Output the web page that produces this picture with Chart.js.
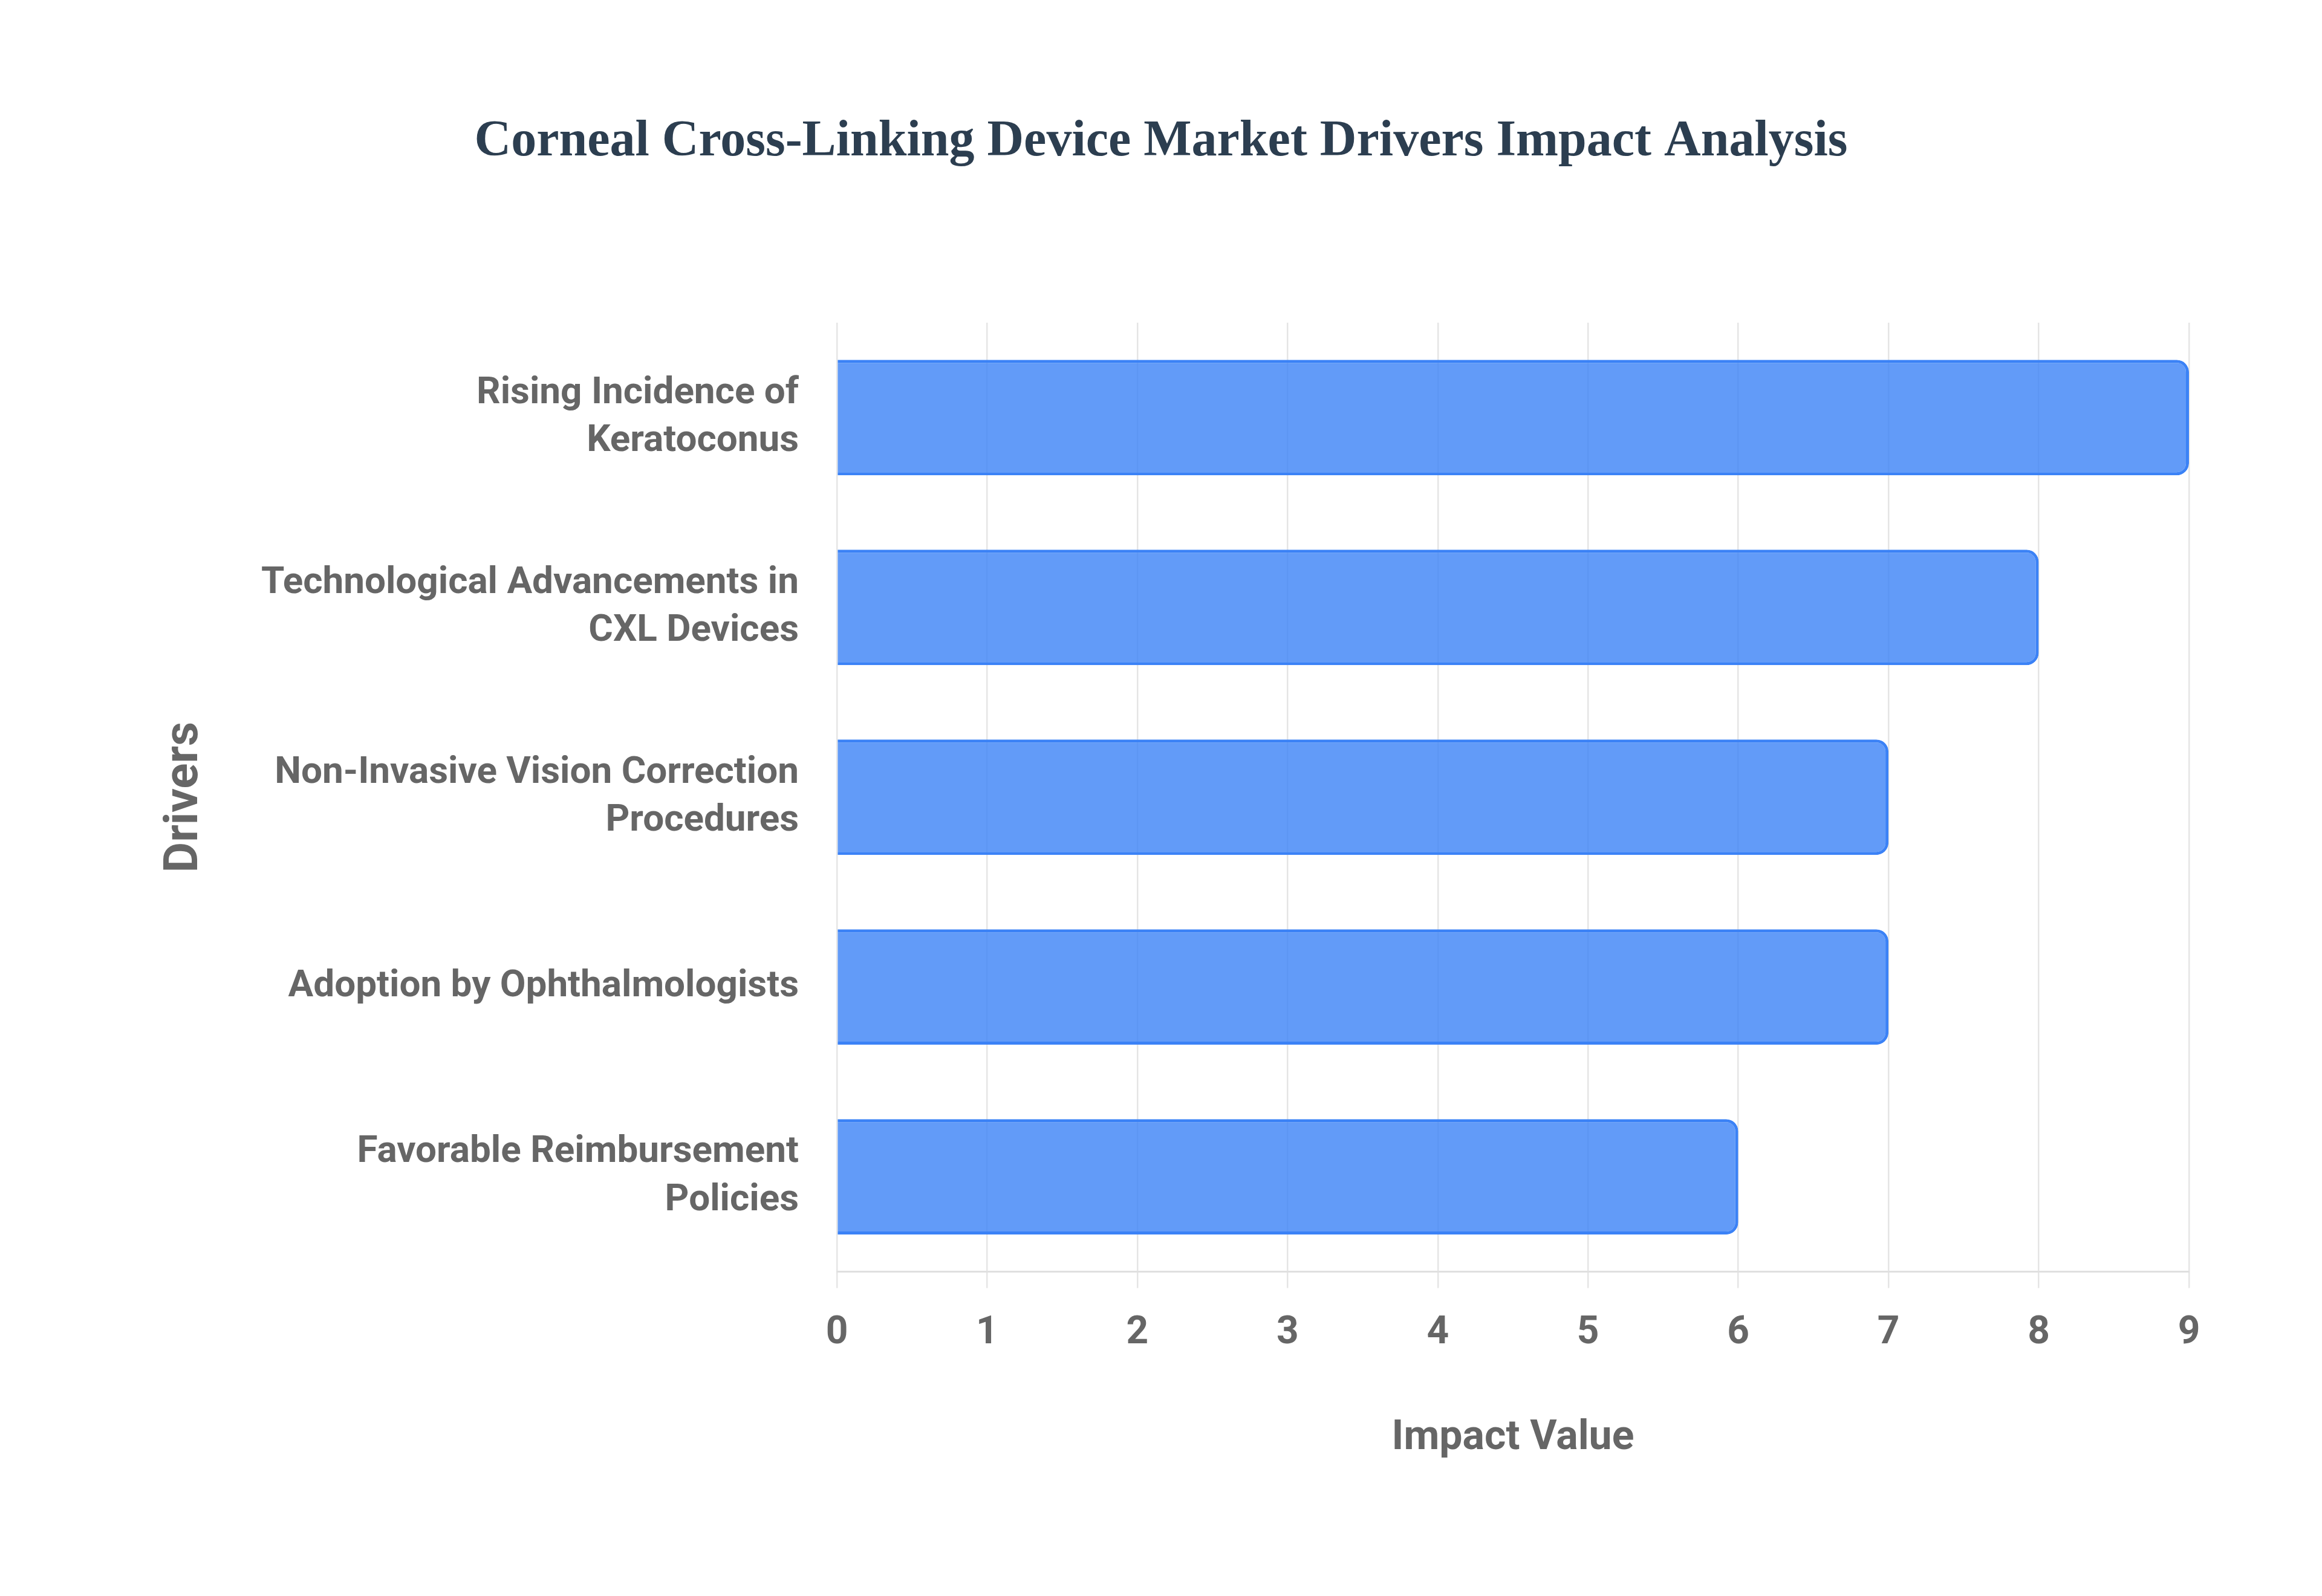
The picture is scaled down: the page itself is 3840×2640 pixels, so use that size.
<!DOCTYPE html>
<html>
<head>
<meta charset="utf-8">
<script src="https://cdn.jsdelivr.net/npm/chart.js@4.4.1/dist/chart.umd.min.js"></script>
<style>
  html, body { margin: 0; padding: 0; background: #fff; }
  #wrap { width: 3840px; height: 2640px; }
</style>
</head>
<body>
<div id="wrap"><canvas id="driversChart" width="3840" height="2640"></canvas></div>
<script>
// drivers, top to bottom
const drivers = [
  ['Rising Incidence of', 'Keratoconus'],
  ['Technological Advancements in', 'CXL Devices'],
  ['Non-Invasive Vision Correction', 'Procedures'],
  'Adoption by Ophthalmologists',
  ['Favorable Reimbursement', 'Policies']
];
const impactValues = [9, 8, 7, 7, 6];
const impactTicks = [0, 1, 2, 3, 4, 5, 6, 7, 8, 9];

const labelColor = '#666';
const gridColor = 'rgba(0,0,0,0.1)';

const ctx = document.getElementById('driversChart').getContext('2d');
new Chart(ctx, {
  type: 'bar',
  data: {
    labels: drivers,
    datasets: [{
      label: 'Impact Value',
      data: impactValues,
      backgroundColor: 'rgba(59,130,246,0.8)',
      borderColor: 'rgba(59,130,246,1)',
      borderWidth: 5,
      borderRadius: 20,
      borderSkipped: 'start',
      categoryPercentage: 0.8,
      barPercentage: 0.76
    }]
  },
  options: {
    indexAxis: 'y',
    responsive: false,
    animation: false,
    devicePixelRatio: 1,
    layout: { padding: { left: 220, right: 220, top: 0, bottom: 219 } },
    plugins: {
      legend: { display: false },
      tooltip: { enabled: false },
      title: {
        display: true,
        text: 'Corneal Cross-Linking Device Market Drivers Impact Analysis',
        color: '#2c3e50',
        font: { family: 'Liberation Serif', size: 84, weight: 'bold' },
        padding: { top: 185, bottom: 248 }
      }
    },
    scales: {
      x: {
        min: 0,
        max: 9,
        afterBuildTicks: axis => { axis.ticks = impactTicks.map(v => ({ value: v })); },
        grid: { color: gridColor, lineWidth: 2.5, tickLength: 27 },
        border: { color: 'rgba(0,0,0,0.12)', width: 3 },
        ticks: {
          color: labelColor,
          padding: 37,
          font: { family: 'Roboto', size: 64, weight: 'bold' }
        },
        title: {
          display: true,
          text: 'Impact Value',
          color: labelColor,
          padding: { top: 58, bottom: 0 },
          font: { family: 'Roboto', size: 68, weight: 'bold' }
        }
      },
      y: {
        afterFit: scale => { scale.width = 1384 - 220; },
        grid: { display: false },
        border: { display: false },
        ticks: {
          color: labelColor,
          padding: 55,
          font: { family: 'Roboto', size: 62, weight: 'bold', lineHeight: 1.28 }
        },
        title: {
          display: true,
          text: 'Drivers',
          color: labelColor,
          padding: { top: 40, bottom: 0 },
          font: { family: 'Roboto', size: 78, weight: 'bold' }
        }
      }
    }
  }
});
</script>
</body>
</html>
